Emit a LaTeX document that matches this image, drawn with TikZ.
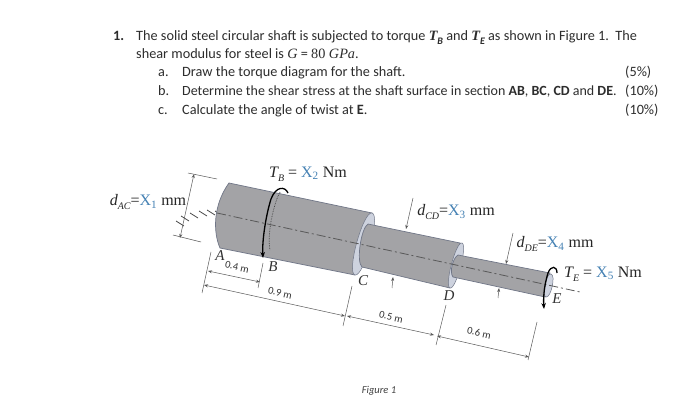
\documentclass[tikz,border=0pt]{standalone}
\usepackage{fontspec}
\setmainfont{Carlito}
\newfontfamily\serifx{Liberation Serif}
\usetikzlibrary{arrows.meta}
\definecolor{shaft}{RGB}{163,163,166}
\definecolor{shaftedge}{RGB}{112,118,135}
\definecolor{ringc}{RGB}{205,210,222}
\definecolor{xblue}{RGB}{70,130,180}
\definecolor{txt}{RGB}{45,45,45}
\newcommand{\bx}[1]{\textcolor{xblue}{X\textsubscript{#1}}}
\newcommand{\sbi}[1]{\raisebox{-0.25em}{\fontsize{10}{10}\selectfont\itshape #1}}
\tikzset{
 x=1pt,y=-1pt,
 line/.style={anchor=base west,font=\fontsize{14.25}{16}\selectfont,text=txt,inner sep=0pt},
 lab/.style={font=\serifx\fontsize{16}{18}\selectfont,text=black!85,inner sep=0pt},
 ptl/.style={font=\serifx\itshape\fontsize{15}{17}\selectfont,text=black!80,inner sep=0pt},
 dimt/.style={font=\fontsize{10.5}{12}\selectfont,text=black!80,inner sep=0pt,rotate=-13},
 body/.style={fill=shaft,draw=shaftedge,line width=0.7pt},
 ring/.style={fill=ringc,draw=shaftedge,line width=0.5pt},
 dimx/.style={draw=black!65,line width=0.5pt},
 dima/.style={draw=black!65,line width=0.5pt,{Stealth[length=4pt,width=3pt]}-{Stealth[length=4pt,width=3pt]}},
 ptr/.style={draw=black!65,line width=0.5pt,-{Stealth[length=4pt,width=3pt]}},
 torq/.style={draw=black,line width=1.3pt,-{Stealth[length=6pt,width=4.5pt]}},
}
\begin{document}
\begin{tikzpicture}
\useasboundingbox[fill=white] (0,0) rectangle (700,411);
% text
\node[line] (l1n) at (113,41) {\textbf{1.}};
\node[line] (l1) at (136,41) {The solid steel circular shaft is subjected to torque {\serifx\bfseries\itshape T}\sbi{\bfseries B} and {\serifx\bfseries\itshape T}\sbi{\bfseries E} as shown in Figure 1.\ \ The};
\node[line] (l2) at (136,59) {shear modulus for steel is {\serifx\itshape G} = {\serifx 80 \itshape GPa}.};
\node[line] (l3a) at (158,77) {a.};
\node[line] (l3) at (182,77) {Draw the torque diagram for the shaft.};
\node[line] (l3p) at (625,77) {(5\%)};
\node[line] (l4a) at (158,96) {b.};
\node[line,font=\fontsize{14}{16}\selectfont] (l4) at (182,96) {Determine the shear stress at the shaft surface in section \textbf{AB}, \textbf{BC}, \textbf{CD} and \textbf{DE}.};
\node[line] (l4p) at (625,96) {(10\%)};
\node[line] (l5a) at (158,115) {c.};
\node[line] (l5) at (182,115) {Calculate the angle of twist at \textbf{E}.};
\node[line] (l5p) at (625,115) {(10\%)};
% wall hatch
\foreach \px/\py in {230,184/226,189/221,198/218,207/216,215/215,223/216,233/217,240/221,248}
  \draw[draw=black!70,line width=0.8pt] (\px,\py) -- ++(-8,-5);
% large shaft
\path[body] (229,183) -- (372,213) -- (355,275) -- (220,248) .. controls (213,232) and (213,205) .. (229,183) -- cycle;
\draw[draw=black!75,densely dotted,line width=0.7pt] (280,192) .. controls (273,205) and (267,235) .. (270,250);
\path[ring] (372,213) .. controls (381,215) and (364,277) .. (355,275) .. controls (346,273) and (363,211) .. (372,213) -- cycle;
% medium shaft
\path[body] (368,224) -- (460,243) -- (450,288) -- (362,267) .. controls (356,262) and (361,228) .. (368,224) -- cycle;
\path[ring] (462,243) .. controls (468,245) and (456,290) .. (450,288) .. controls (444,286) and (456,241) .. (462,243) -- cycle;
% small shaft
\path[body] (458,255) -- (550,273) -- (545,297) -- (453,277) .. controls (449,272) and (453,258) .. (458,255) -- cycle;
\path[ring] (551,274) .. controls (556,275) and (551,298) .. (546,297) .. controls (541,296) and (546,273) .. (551,274) -- cycle;
% centre line
\draw[draw=black!65,line width=0.8pt,dash pattern=on 9pt off 3pt on 2pt off 3pt] (217,213) -- (580,292);
% diameter dimensions
\draw[dimx] (188,173) -- (217,179);
\draw[dimx] (173,235) -- (201,242);
\draw[dima] (194,174) -- (180,238);
\draw[ptr] (413,198) -- (406,229);
\draw[ptr] (392,288) -- (393,277);
\draw[ptr] (513,233) -- (506,264);
\draw[ptr] (498,298) -- (499,288);
% axial dimensions
\draw[dimx] (211,252) -- (202,293);
\draw[dimx] (263,263) -- (258,288);
\draw[dimx] (352,286) -- (343,326);
\draw[dimx] (446,305) -- (436,345);
\draw[dimx] (537,322) -- (528,360);
\draw[dima] (208,271) -- (260,282);
\draw[dima] (204,285) -- (345,316);
\draw[dima] (347,316) -- (434,335);
\draw[dima] (437,336) -- (529,357);
% torques
\draw[torq] (288,193) .. controls (285,186) and (276,186) .. (271,199) .. controls (266,215) and (262,240) .. (263,258);
\draw[torq] (557,273) .. controls (557,266) and (551,265) .. (548,273) .. controls (545,283) and (543,295) .. (544,309);
% labels
\node[lab] (tb) at (308,174) {{\itshape T}\sbi{B} = \bx{2} Nm};
\node[lab] (dac) at (148,202) {{\itshape d}\sbi{AC}=\bx{1} mm};
\node[lab] (dcd) at (456,212) {{\itshape d}\sbi{CD}=\bx{3} mm};
\node[lab] (dde) at (555,244) {{\itshape d}\sbi{DE}=\bx{4} mm};
\node[lab] (te) at (603,274) {{\itshape T}\sbi{E} = \bx{5} Nm};
\node[ptl] (pa) at (220,256) {A};
\node[ptl] (pb) at (273,267) {B};
\node[ptl] (pc) at (363,281) {C};
\node[ptl] (pd) at (449,296) {D};
\node[ptl] (pe) at (557,299) {E};
\node[dimt] (d04) at (237,267) {0.4 m};
\node[dimt] (d09) at (280,293) {0.9 m};
\node[dimt] (d05) at (391,317) {0.5 m};
\node[dimt] (d06) at (479,333) {0.6 m};
\node[font=\itshape\fontsize{10.5}{12}\selectfont,text=black!75,inner sep=0pt] (fig) at (379,391) {Figure 1};
\end{tikzpicture}
\end{document}
